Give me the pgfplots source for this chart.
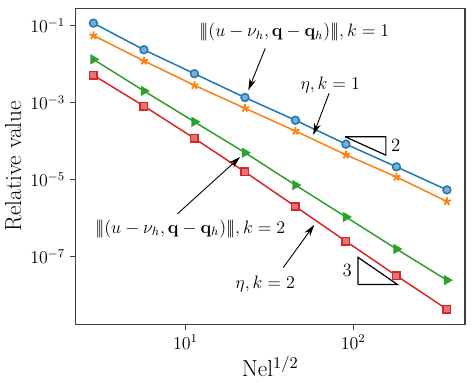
\documentclass[border=0pt]{standalone}
\usepackage{pgfplots}
\pgfplotsset{compat=1.18}
\usetikzlibrary{arrows.meta}
\definecolor{tabblue}{HTML}{1F77B4}
\definecolor{taborange}{HTML}{FF7F0E}
\definecolor{tabgreen}{HTML}{2CA02C}
\definecolor{tabred}{HTML}{D62728}
\begin{document}
\begin{tikzpicture}
\begin{axis}[
  scale only axis,
  width=260pt, height=211pt,
  xmode=log, ymode=log,
  log basis x=10, log basis y=10,
  xmin=2.21, xmax=464,
  ymin=1.74e-9, ymax=0.28,
  ytick={1e-1,1e-3,1e-5,1e-7},
  yminorticks=false,
  xtick={10,100},
  tick align=outside,
  major tick length=3.5pt, minor tick length=2pt,
  xtick pos=bottom, ytick pos=left,
  axis line style={black!75, line width=0.8pt},
  every tick/.style={black!75, line width=0.6pt},
  tick label style={font=\fontsize{11.5}{13}\selectfont},
  xlabel={Nel$^{1/2}$},
  ylabel={Relative value},
  label style={font=\fontsize{15.5}{18}\selectfont},
  ylabel style={yshift=-1pt},
  xlabel style={yshift=2pt},
  clip=false,
]
\addplot[tabblue, line width=1pt, mark=*, mark size=2.6pt, mark options={fill=tabblue!60, draw=tabblue}] coordinates {
(2.828,0.115) (5.657,0.0234) (11.314,5.6e-3) (22.627,1.35e-3) (45.255,3.47e-4) (90.510,8.3e-5) (181.019,2.14e-5) (362.039,5.4e-6)};
\addplot[taborange, line width=1pt, mark=star, mark size=2.8pt, mark options={line width=1.2pt}] coordinates {
(2.828,0.055) (5.657,0.012) (11.314,2.8e-3) (22.627,7.1e-4) (45.255,1.82e-4) (90.510,4.4e-5) (181.019,1.17e-5) (362.039,2.7e-6)};
\addplot[tabgreen, line width=1pt, mark=triangle*, mark size=3pt, mark options={rotate=-90, fill=tabgreen, draw=tabgreen}] coordinates {
(2.828,0.0132) (5.657,2.0e-3) (11.314,3.16e-4) (22.627,5.0e-5) (45.255,7.2e-6) (90.510,1.07e-6) (181.019,1.58e-7) (362.039,2.45e-8)};
\addplot[tabred, line width=1pt, mark=square*, mark size=2.5pt, mark options={fill=tabred!65, draw=tabred}] coordinates {
(2.828,5.1e-3) (5.657,8.1e-4) (11.314,1.17e-4) (22.627,1.58e-5) (45.255,2.0e-6) (90.510,2.5e-7) (181.019,3.2e-8) (362.039,4.3e-9)};
% slope triangles
\addplot[black, line width=0.8pt, mark=none] coordinates {(89.6,1.29e-4) (156.6,1.29e-4) (156.6,4.3e-5) (89.6,1.29e-4)};
\addplot[black, line width=0.8pt, mark=none] coordinates {(106.7,1.89e-8) (183.6,1.89e-8) (106.7,9.6e-8) (106.7,1.89e-8)};
\node[font=\fontsize{12.5}{14}\selectfont] at (axis cs:179.5,7.9e-5) {2};
\node[font=\fontsize{12.5}{14}\selectfont] at (axis cs:92,4.3e-8) {3};
% annotations
\node[font=\fontsize{11.5}{13}\selectfont] at (axis cs:44.6,0.0659) {$|\!|\!|(u-\nu_h,\mathbf{q}-\mathbf{q}_h)|\!|\!|, k=1$};
\draw[-{Stealth[length=8pt,width=4.5pt]}, line width=0.6pt] (axis cs:29.9,0.0254) -- (axis cs:23.7,2.08e-3);
\node[font=\fontsize{11.5}{13}\selectfont] at (axis cs:73,2.8e-3) {$\eta, k=1$};
\draw[-{Stealth[length=8pt,width=4.5pt]}, line width=0.6pt] (axis cs:71.9,1.75e-3) -- (axis cs:57.8,1.43e-4);
\node[font=\fontsize{11.5}{13}\selectfont] at (axis cs:10.7,5.3e-7) {$|\!|\!|(u-\nu_h,\mathbf{q}-\mathbf{q}_h)|\!|\!|, k=2$};
\draw[-{Stealth[length=8pt,width=4.5pt]}, line width=0.6pt] (axis cs:8.96,1.29e-6) -- (axis cs:21.2,3.86e-5);
\node[font=\fontsize{11.5}{13}\selectfont] at (axis cs:29.9,2.0e-8) {$\eta, k=2$};
\draw[-{Stealth[length=8pt,width=4.5pt]}, line width=0.6pt] (axis cs:38.3,5.2e-8) -- (axis cs:58.6,6.7e-7);
\end{axis}
\path (current axis.south west) ++(-50pt,-39pt) coordinate (bbA);
\path (current axis.north east) ++(6pt,5.5pt) coordinate (bbB);
\path (bbA) rectangle (bbB);
\end{tikzpicture}
\end{document}
